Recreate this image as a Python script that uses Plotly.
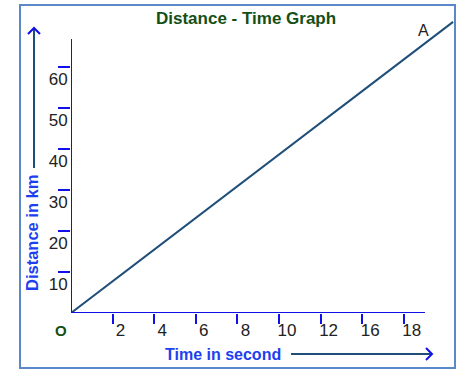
import plotly.graph_objects as go

# ---- data ----
time_s = [0, 18.37]
distance_km = [0, 71.0]
x_tick_pos = [2, 4, 6, 8, 10, 12, 14, 16]
x_tick_labels = ["2", "4", "6", "8", "10", "12", "16", "18"]
y_tick_pos = [10, 20, 30, 40, 50, 60]
y_tick_labels = ["10", "20", "30", "40", "50", "60"]

W, H = 461, 373
L, R, T, B = 71, 5, 18, 60
pw, ph = W - L - R, H - T - B
XMAX, YMAX = pw / 20.8, ph / 4.1

def px(x):
    return (x - L) / pw

def py(y):
    return (H - B - y) / ph

AXIS_BLUE = "#1010e8"
NAVY = "#1f4e79"
TITLE_BLUE = "#1c3ff0"
GREEN = "#144f14"

fig = go.Figure()
fig.add_trace(go.Scatter(x=time_s, y=distance_km, mode="lines",
                         line=dict(color=NAVY, width=2), hoverinfo="skip",
                         showlegend=False))

shapes = []
# frame
shapes.append(dict(type="rect", xref="paper", yref="paper",
                   x0=px(20), x1=px(455), y0=py(5), y1=py(368),
                   line=dict(color="#5a88c8", width=2)))
# axis lines
shapes.append(dict(type="line", xref="x", yref="y", x0=0, y0=0,
                   x1=(425 - L) / 20.8, y1=0, line=dict(color=AXIS_BLUE, width=2)))
shapes.append(dict(type="line", xref="x", yref="y", x0=0, y0=0,
                   x1=0, y1=(313 - 39) / 4.1, line=dict(color=AXIS_BLUE, width=2)))
# y arrow
shapes.append(dict(type="line", xref="paper", yref="paper",
                   x0=px(34), x1=px(34), y0=py(168), y1=py(29),
                   line=dict(color=NAVY, width=2)))
shapes.append(dict(type="path", xref="paper", yref="paper",
                   path=f"M {px(28)},{py(34)} L {px(34)},{py(28)} L {px(40)},{py(34)}",
                   line=dict(color=AXIS_BLUE, width=2)))
# x arrow
shapes.append(dict(type="line", xref="paper", yref="paper",
                   x0=px(291), x1=px(431), y0=py(354), y1=py(354),
                   line=dict(color=NAVY, width=2)))
shapes.append(dict(type="path", xref="paper", yref="paper",
                   path=f"M {px(426)},{py(348)} L {px(432)},{py(354)} L {px(426)},{py(360)}",
                   line=dict(color=AXIS_BLUE, width=2)))

def ann(text, x, y, size, color, angle=0):
    return dict(text=text, xref="paper", yref="paper", x=px(x), y=py(y),
                xanchor="center", yanchor="middle", showarrow=False,
                textangle=angle,
                font=dict(family="Liberation Sans, Arial", size=size, color=color))

annotations = [
    ann("<b>Distance - Time Graph</b>", 246, 18, 17, GREEN),
    ann("<b>Distance in km</b>", 32, 233, 16.5, TITLE_BLUE, -90),
    ann("<b>Time in second</b>", 223, 354, 16, TITLE_BLUE),
    ann("<b>O</b>", 61, 330, 15, GREEN),
    ann("A", 423, 31, 16, "#222222"),
]

tick_font = dict(family="Liberation Sans, Arial", size=17, color="#222222")
fig.update_layout(
    width=W, height=H,
    margin=dict(l=L, r=R, t=T, b=B),
    paper_bgcolor="white", plot_bgcolor="white",
    shapes=shapes, annotations=annotations,
    xaxis=dict(range=[0, XMAX], showgrid=False, zeroline=False, showline=False,
               tickvals=x_tick_pos, ticktext=x_tick_labels,
               ticks="outside", ticklen=10, tickwidth=2, tickcolor=AXIS_BLUE,
               tickfont=tick_font, ticklabelshift=8, ticklabelstandoff=-8),
    yaxis=dict(range=[0, YMAX], showgrid=False, zeroline=False, showline=False,
               tickvals=y_tick_pos, ticktext=y_tick_labels,
               ticks="outside", ticklen=12, tickwidth=2, tickcolor=AXIS_BLUE,
               tickfont=tick_font, ticklabelshift=12, ticklabelstandoff=-13),
)

fig.write_html("out.html", config={"displayModeBar": False},
               post_script="document.body.style.margin='0';document.body.style.overflow='hidden';")
